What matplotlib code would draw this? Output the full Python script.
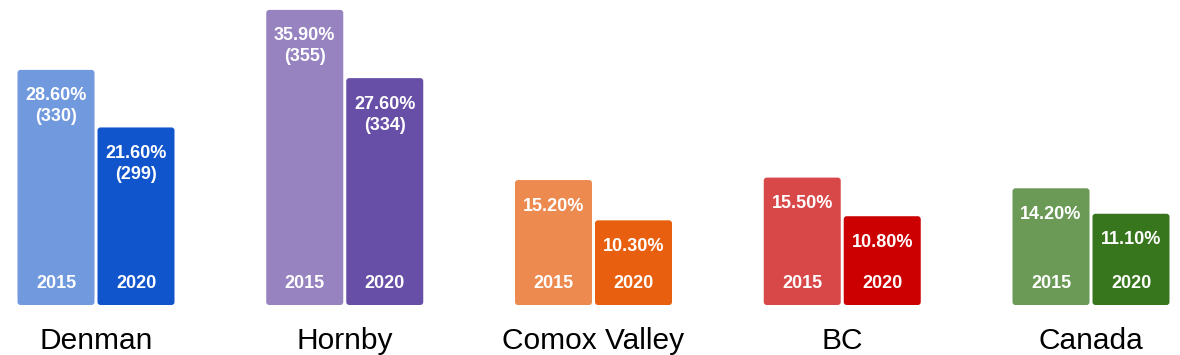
import matplotlib
matplotlib.use("Agg")
import matplotlib.pyplot as plt
from matplotlib.patches import FancyBboxPatch
import numpy as np

plt.rcParams['font.family'] = ['Liberation Sans', 'DejaVu Sans']

places = ['Denman', 'Hornby', 'Comox Valley', 'BC', 'Canada']
years = ['2015', '2020']
pct_2015 = [28.6, 35.9, 15.2, 15.5, 14.2]
pct_2020 = [21.6, 27.6, 10.3, 10.8, 11.1]
count_2015 = [330, 355, None, None, None]
count_2020 = [299, 334, None, None, None]
col_2015 = ['#7099de', '#9683c0', '#ec8a50', '#d94848', '#6a9a55']
col_2020 = ['#1155cc', '#674ea7', '#e8600f', '#cc0000', '#38761d']

fig = plt.figure(figsize=(11.8, 3.55), dpi=100)
ax = fig.add_axes([0, 50/355, 1, 305/355])
ax.set_xlim(-96/248.75, (1180-96)/248.75)
ax.set_ylim(0, 305/8.22)
ax.axis('off')

x = np.arange(len(places))
w = 77/248.75
off = 40/248.75
px = 72/100.0  # points per pixel

series = [(pct_2015, count_2015, col_2015, -off, years[0]),
          (pct_2020, count_2020, col_2020, off, years[1])]
for vals, counts, cols, dx, yr in series:
    bars = ax.bar(x + dx, vals, width=w, color=cols)
    # swap plain rectangles for slightly rounded ones
    for b in bars:
        b.set_visible(False)
        fb = FancyBboxPatch((b.get_x(), b.get_y()), b.get_width(), b.get_height(),
                            boxstyle='round,pad=0,rounding_size=0.012',
                            mutation_aspect=248.75/8.22,
                            facecolor=b.get_facecolor(), edgecolor='none')
        ax.add_patch(fb)
    for xi, v, c in zip(x + dx, vals, counts):
        ax.annotate('%.2f%%' % v, (xi, v), xytext=(0, -26*px), textcoords='offset points',
                    ha='center', va='center', color='white', fontsize=13,
                    fontweight='bold')
        if c is not None:
            ax.annotate('(%d)' % c, (xi, v), xytext=(0, -47*px), textcoords='offset points',
                        ha='center', va='center', color='white', fontsize=13,
                        fontweight='bold')
        ax.annotate(yr, (xi, 0), xytext=(0, 22*px), textcoords='offset points',
                    ha='center', va='center', color='white', fontsize=13,
                    fontweight='bold')

for xi, name in zip(x, places):
    ax.annotate(name, (xi, 0), xytext=(0, -36*px), textcoords='offset points',
                ha='center', va='center', fontsize=21.5, color='black',
                annotation_clip=False)

fig.savefig('out.png', dpi=100)
